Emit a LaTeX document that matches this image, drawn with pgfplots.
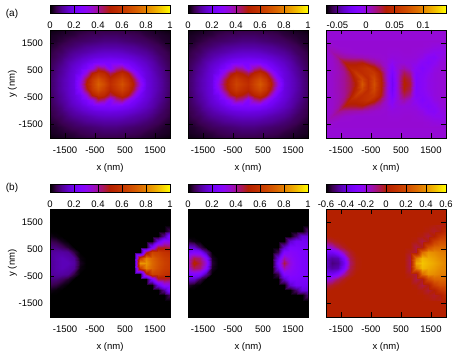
\documentclass[border=0pt]{standalone}
\usepackage{pgfplots}
\usepackage{pgfplotstable}
\usepackage{fontspec}
\setmainfont{Liberation Sans}
\pgfplotsset{compat=1.18}
\definecolor{bgAc}{rgb}{.585,.04,.84}
\definecolor{bgBc}{rgb}{.707,.125,0}
\pgfplotsset{
 colormap={gp}{
  rgb=(0,0,0) rgb=(.224,0,.309) rgb=(.316,.001,.588) rgb=(.387,.003,.809) rgb=(.447,.008,.951)
  rgb=(.5,.016,1) rgb=(.548,.027,.951) rgb=(.592,.043,.809) rgb=(.632,.064,.588) rgb=(.671,.091,.309)
  rgb=(.707,.125,0) rgb=(.742,.166,0) rgb=(.775,.216,0) rgb=(.806,.275,0) rgb=(.837,.343,0)
  rgb=(.866,.422,0) rgb=(.894,.512,0) rgb=(.922,.614,0) rgb=(.949,.729,0) rgb=(.975,.857,0) rgb=(1,1,0)},
 panel/.style={
  scale only axis,width=120pt,height=108pt,anchor=north west,
  xmin=-2000,xmax=2000,ymin=-2000,ymax=2000,axis on top,
  xtick={-1500,-500,500,1500},xticklabels={-1500,-500,500,1500},
  ytick={-1500,-500,500,1500},yticklabels={-1500,-500,500,1500},
  tick align=inside,major tick length=4.5pt,
  tick style={black,line width=.5pt},axis line style={line width=.6pt},
  tick label style={font=\fontsize{9.5}{10}\selectfont},
  label style={font=\fontsize{9.5}{10}\selectfont},
  xticklabel style={yshift=-5.5pt},
  yticklabel style={xshift=-3.5pt},
  xlabel={x (nm)},xlabel style={yshift=-2.5pt},
  ylabel shift=-5pt,
  colormap name=gp,
 },
 cbar/.style={
  scale only axis,width=120pt,height=8pt,anchor=south west,
  ymin=0,ymax=1,ytick=\empty,axis on top,colormap name=gp,
  xtick pos=lower,tick align=inside,major tick length=8pt,
  tick style={black,line width=.5pt},axis line style={line width=.6pt},
  tick label style={font=\fontsize{9.5}{10}\selectfont},
  xticklabel style={yshift=-5pt},
 },
 field/.style={surf,shader=interp,mesh/cols=21,point meta=\thisrow{v}},
}
\newcommand\cbarplot[6]{%
\begin{axis}[cbar,at={(#1pt,#2pt)},xmin=#3,xmax=#4,xtick={#5},xticklabels={#6},point meta min=#3,point meta max=#4]
\addplot[surf,shader=interp,mesh/cols=2,point meta=explicit] coordinates {(#3,0) [#3] (#4,0) [#4] (#3,1) [#3] (#4,1) [#4]};
\end{axis}}
\pgfplotstableread{
x y v
-2000 0 .065
-1800 0 .09
-1600 0 .12
-1400 0 .145
-1200 0 .18
-1000 0 .32
-800 0 .50
-600 0 .62
-400 0 .72
-200 0 .66
0 0 .56
200 0 .62
400 0 .68
600 0 .60
800 0 .48
1000 0 .32
1200 0 .18
1400 0 .145
1600 0 .12
1800 0 .09
2000 0 .065
-2000 200 .065
-1800 200 .09
-1600 200 .12
-1400 200 .145
-1200 200 .175
-1000 200 .28
-800 200 .46
-600 200 .60
-400 200 .68
-200 200 .62
0 200 .53
200 200 .59
400 200 .64
600 200 .57
800 200 .45
1000 200 .28
1200 200 .175
1400 200 .145
1600 200 .12
1800 200 .09
2000 200 .065
-2000 400 .06
-1800 400 .085
-1600 400 .11
-1400 400 .14
-1200 400 .17
-1000 400 .21
-800 400 .33
-600 400 .50
-400 400 .57
-200 400 .54
0 400 .44
200 400 .50
400 400 .55
600 400 .49
800 400 .33
1000 400 .21
1200 400 .17
1400 400 .14
1600 400 .11
1800 400 .085
2000 400 .06
-2000 600 .055
-1800 600 .08
-1600 600 .105
-1400 600 .13
-1200 600 .16
-1000 600 .19
-800 600 .23
-600 600 .31
-400 600 .44
-200 600 .40
0 600 .27
200 600 .38
400 600 .42
600 600 .30
800 600 .23
1000 600 .19
1200 600 .16
1400 600 .13
1600 600 .105
1800 600 .08
2000 600 .055
-2000 800 .05
-1800 800 .07
-1600 800 .09
-1400 800 .12
-1200 800 .14
-1000 800 .16
-800 800 .185
-600 800 .21
-400 800 .235
-200 800 .24
0 800 .24
200 800 .24
400 800 .23
600 800 .21
800 800 .185
1000 800 .16
1200 800 .14
1400 800 .12
1600 800 .09
1800 800 .07
2000 800 .05
-2000 1000 .045
-1800 1000 .06
-1600 1000 .08
-1400 1000 .10
-1200 1000 .12
-1000 1000 .135
-800 1000 .15
-600 1000 .165
-400 1000 .175
-200 1000 .18
0 1000 .185
200 1000 .18
400 1000 .175
600 1000 .165
800 1000 .15
1000 1000 .135
1200 1000 .12
1400 1000 .10
1600 1000 .08
1800 1000 .06
2000 1000 .045
-2000 1200 .04
-1800 1200 .055
-1600 1200 .065
-1400 1200 .085
-1200 1200 .10
-1000 1200 .11
-800 1200 .12
-600 1200 .13
-400 1200 .14
-200 1200 .145
0 1200 .145
200 1200 .145
400 1200 .14
600 1200 .13
800 1200 .12
1000 1200 .11
1200 1200 .10
1400 1200 .085
1600 1200 .065
1800 1200 .055
2000 1200 .04
-2000 1400 .03
-1800 1400 .04
-1600 1400 .055
-1400 1400 .065
-1200 1400 .075
-1000 1400 .085
-800 1400 .095
-600 1400 .10
-400 1400 .105
-200 1400 .11
0 1400 .11
200 1400 .11
400 1400 .105
600 1400 .10
800 1400 .095
1000 1400 .085
1200 1400 .075
1400 1400 .065
1600 1400 .055
1800 1400 .04
2000 1400 .03
-2000 1600 .025
-1800 1600 .03
-1600 1600 .04
-1400 1600 .05
-1200 1600 .06
-1000 1600 .065
-800 1600 .07
-600 1600 .075
-400 1600 .08
-200 1600 .085
0 1600 .085
200 1600 .085
400 1600 .08
600 1600 .075
800 1600 .07
1000 1600 .065
1200 1600 .06
1400 1600 .05
1600 1600 .04
1800 1600 .03
2000 1600 .025
-2000 1800 .02
-1800 1800 .025
-1600 1800 .03
-1400 1800 .035
-1200 1800 .04
-1000 1800 .05
-800 1800 .055
-600 1800 .06
-400 1800 .06
-200 1800 .065
0 1800 .065
200 1800 .065
400 1800 .06
600 1800 .06
800 1800 .055
1000 1800 .05
1200 1800 .04
1400 1800 .035
1600 1800 .03
1800 1800 .025
2000 1800 .02
-2000 2000 .01
-1800 2000 .015
-1600 2000 .02
-1400 2000 .025
-1200 2000 .03
-1000 2000 .035
-800 2000 .04
-600 2000 .04
-400 2000 .045
-200 2000 .045
0 2000 .045
200 2000 .045
400 2000 .045
600 2000 .04
800 2000 .04
1000 2000 .035
1200 2000 .03
1400 2000 .025
1600 2000 .02
1800 2000 .015
2000 2000 .01
}\tAa
\pgfplotstableread{
x y v
-2000 0 .065
-1800 0 .09
-1600 0 .12
-1400 0 .145
-1200 0 .18
-1000 0 .32
-800 0 .46
-600 0 .56
-400 0 .64
-200 0 .60
0 0 .56
200 0 .64
400 0 .70
600 0 .62
800 0 .48
1000 0 .32
1200 0 .18
1400 0 .145
1600 0 .12
1800 0 .09
2000 0 .065
-2000 200 .065
-1800 200 .09
-1600 200 .12
-1400 200 .145
-1200 200 .175
-1000 200 .28
-800 200 .43
-600 200 .54
-400 200 .61
-200 200 .57
0 200 .53
200 200 .61
400 200 .66
600 200 .59
800 200 .45
1000 200 .28
1200 200 .175
1400 200 .145
1600 200 .12
1800 200 .09
2000 200 .065
-2000 400 .06
-1800 400 .085
-1600 400 .11
-1400 400 .14
-1200 400 .17
-1000 400 .21
-800 400 .33
-600 400 .46
-400 400 .52
-200 400 .49
0 400 .44
200 400 .52
400 400 .56
600 400 .49
800 400 .33
1000 400 .21
1200 400 .17
1400 400 .14
1600 400 .11
1800 400 .085
2000 400 .06
-2000 600 .055
-1800 600 .08
-1600 600 .105
-1400 600 .13
-1200 600 .16
-1000 600 .19
-800 600 .23
-600 600 .30
-400 600 .41
-200 600 .38
0 600 .27
200 600 .39
400 600 .43
600 600 .31
800 600 .23
1000 600 .19
1200 600 .16
1400 600 .13
1600 600 .105
1800 600 .08
2000 600 .055
-2000 800 .05
-1800 800 .07
-1600 800 .09
-1400 800 .12
-1200 800 .14
-1000 800 .16
-800 800 .185
-600 800 .21
-400 800 .23
-200 800 .24
0 800 .24
200 800 .24
400 800 .235
600 800 .21
800 800 .185
1000 800 .16
1200 800 .14
1400 800 .12
1600 800 .09
1800 800 .07
2000 800 .05
-2000 1000 .045
-1800 1000 .06
-1600 1000 .08
-1400 1000 .10
-1200 1000 .12
-1000 1000 .135
-800 1000 .15
-600 1000 .165
-400 1000 .175
-200 1000 .18
0 1000 .185
200 1000 .18
400 1000 .175
600 1000 .165
800 1000 .15
1000 1000 .135
1200 1000 .12
1400 1000 .10
1600 1000 .08
1800 1000 .06
2000 1000 .045
-2000 1200 .04
-1800 1200 .055
-1600 1200 .065
-1400 1200 .085
-1200 1200 .10
-1000 1200 .11
-800 1200 .12
-600 1200 .13
-400 1200 .14
-200 1200 .145
0 1200 .145
200 1200 .145
400 1200 .14
600 1200 .13
800 1200 .12
1000 1200 .11
1200 1200 .10
1400 1200 .085
1600 1200 .065
1800 1200 .055
2000 1200 .04
-2000 1400 .03
-1800 1400 .04
-1600 1400 .055
-1400 1400 .065
-1200 1400 .075
-1000 1400 .085
-800 1400 .095
-600 1400 .10
-400 1400 .105
-200 1400 .11
0 1400 .11
200 1400 .11
400 1400 .105
600 1400 .10
800 1400 .095
1000 1400 .085
1200 1400 .075
1400 1400 .065
1600 1400 .055
1800 1400 .04
2000 1400 .03
-2000 1600 .025
-1800 1600 .03
-1600 1600 .04
-1400 1600 .05
-1200 1600 .06
-1000 1600 .065
-800 1600 .07
-600 1600 .075
-400 1600 .08
-200 1600 .085
0 1600 .085
200 1600 .085
400 1600 .08
600 1600 .075
800 1600 .07
1000 1600 .065
1200 1600 .06
1400 1600 .05
1600 1600 .04
1800 1600 .03
2000 1600 .025
-2000 1800 .02
-1800 1800 .025
-1600 1800 .03
-1400 1800 .035
-1200 1800 .04
-1000 1800 .05
-800 1800 .055
-600 1800 .06
-400 1800 .06
-200 1800 .065
0 1800 .065
200 1800 .065
400 1800 .06
600 1800 .06
800 1800 .055
1000 1800 .05
1200 1800 .04
1400 1800 .035
1600 1800 .03
1800 1800 .025
2000 1800 .02
-2000 2000 .01
-1800 2000 .015
-1600 2000 .02
-1400 2000 .025
-1200 2000 .03
-1000 2000 .035
-800 2000 .04
-600 2000 .04
-400 2000 .045
-200 2000 .045
0 2000 .045
200 2000 .045
400 2000 .045
600 2000 .04
800 2000 .04
1000 2000 .035
1200 2000 .03
1400 2000 .025
1600 2000 .02
1800 2000 .015
2000 2000 .01
}\tAb
\pgfplotstableread{
x y v
-2000 0 0
-1800 0 .002
-1600 0 .006
-1400 0 .012
-1200 0 .022
-1000 0 .035
-800 0 .075
-600 0 .045
-400 0 .07
-200 0 .04
0 0 .008
200 0 -.028
400 0 .005
600 0 .035
800 0 .025
1000 0 -.018
1200 0 -.012
1400 0 -.006
1600 0 -.003
1800 0 -.001
2000 0 0
-2000 200 0
-1800 200 .002
-1600 200 .006
-1400 200 .012
-1200 200 .022
-1000 200 .04
-800 200 .065
-600 200 .045
-400 200 .065
-200 200 .04
0 200 .006
200 200 -.027
400 200 .004
600 200 .032
800 200 .022
1000 200 -.018
1200 200 -.012
1400 200 -.006
1600 200 -.003
1800 200 -.001
2000 200 0
-2000 400 0
-1800 400 .002
-1600 400 .005
-1400 400 .012
-1200 400 .028
-1000 400 .055
-800 400 .045
-600 400 .05
-400 400 .055
-200 400 .035
0 400 .004
200 400 -.022
400 400 .002
600 400 .022
800 400 .012
1000 400 -.016
1200 400 -.014
1400 400 -.008
1600 400 -.003
1800 400 -.001
2000 400 0
-2000 600 0
-1800 600 .002
-1600 600 .006
-1400 600 .016
-1200 600 .04
-1000 600 .04
-800 600 .045
-600 600 .05
-400 600 .038
-200 600 .02
0 600 .002
200 600 -.015
400 600 0
600 600 .008
800 600 0
1000 600 -.01
1200 600 -.018
1400 600 -.012
1600 600 -.005
1800 600 -.001
2000 600 0
-2000 800 0
-1800 800 .002
-1600 800 .008
-1400 800 .03
-1200 800 .028
-1000 800 .028
-800 800 .03
-600 800 .02
-400 800 .012
-200 800 .006
0 800 0
200 800 -.008
400 800 -.003
600 800 -.002
800 800 -.003
1000 800 -.005
1200 800 -.012
1400 800 -.016
1600 800 -.01
1800 800 -.003
2000 800 0
-2000 1000 0
-1800 1000 .003
-1600 1000 .014
-1400 1000 .01
-1200 1000 .008
-1000 1000 .007
-800 1000 .006
-600 1000 .004
-400 1000 .002
-200 1000 .001
0 1000 0
200 1000 -.003
400 1000 -.002
600 1000 -.001
800 1000 -.001
1000 1000 -.002
1200 1000 -.005
1400 1000 -.012
1600 1000 -.014
1800 1000 -.006
2000 1000 -.002
-2000 1200 0
-1800 1200 .007
-1600 1200 .005
-1400 1200 .002
-1200 1200 .001
-1000 1200 0
-800 1200 0
-600 1200 0
-400 1200 0
-200 1200 0
0 1200 0
200 1200 -.001
400 1200 -.001
600 1200 0
800 1200 0
1000 1200 -.001
1200 1200 -.002
1400 1200 -.005
1600 1200 -.008
1800 1200 -.008
2000 1200 -.004
-2000 1400 .003
-1800 1400 .002
-1600 1400 0
-1400 1400 0
-1200 1400 0
-1000 1400 0
-800 1400 0
-600 1400 0
-400 1400 0
-200 1400 0
0 1400 0
200 1400 0
400 1400 0
600 1400 0
800 1400 0
1000 1400 0
1200 1400 0
1400 1400 -.001
1600 1400 -.003
1800 1400 -.004
2000 1400 -.004
-2000 1600 0
-1800 1600 0
-1600 1600 0
-1400 1600 0
-1200 1600 0
-1000 1600 0
-800 1600 0
-600 1600 0
-400 1600 0
-200 1600 0
0 1600 0
200 1600 0
400 1600 0
600 1600 0
800 1600 0
1000 1600 0
1200 1600 0
1400 1600 0
1600 1600 0
1800 1600 0
2000 1600 0
}\tAc
\pgfplotstableread{
x y v
-2000 0 .10
-1800 0 .12
-1600 0 .13
-1400 0 .13
-1200 0 .11
-1000 0 .02
-800 0 0
-600 0 0
-400 0 0
-200 0 0
0 0 0
200 0 0
400 0 0
600 0 0
800 0 0
1000 0 .84
1200 0 .84
1400 0 .74
1600 0 .68
1800 0 .63
2000 0 .60
-2000 200 .10
-1800 200 .12
-1600 200 .13
-1400 200 .12
-1200 200 .10
-1000 200 .01
-800 200 0
-600 200 0
-400 200 0
-200 200 0
0 200 0
200 200 0
400 200 0
600 200 0
800 200 0
1000 200 .62
1200 200 .80
1400 200 .73
1600 200 .67
1800 200 .62
2000 200 .60
-2000 400 .10
-1800 400 .11
-1600 400 .11
-1400 400 .10
-1200 400 .04
-1000 400 0
-800 400 0
-600 400 0
-400 400 0
-200 400 0
0 400 0
200 400 0
400 400 0
600 400 0
800 400 0
1000 400 0
1200 400 .45
1400 400 .64
1600 400 .62
1800 400 .58
2000 400 .56
-2000 600 .08
-1800 600 .08
-1600 600 .06
-1400 600 .03
-1200 600 0
-1000 600 0
-800 600 0
-600 600 0
-400 600 0
-200 600 0
0 600 0
200 600 0
400 600 0
600 600 0
800 600 0
1000 600 0
1200 600 0
1400 600 .24
1600 600 .46
1800 600 .47
2000 600 .45
-2000 800 .05
-1800 800 .04
-1600 800 .015
-1400 800 0
-1200 800 0
-1000 800 0
-800 800 0
-600 800 0
-400 800 0
-200 800 0
0 800 0
200 800 0
400 800 0
600 800 0
800 800 0
1000 800 0
1200 800 0
1400 800 0
1600 800 .18
1800 800 .30
2000 800 .31
-2000 1000 .015
-1800 1000 .005
-1600 1000 0
-1400 1000 0
-1200 1000 0
-1000 1000 0
-800 1000 0
-600 1000 0
-400 1000 0
-200 1000 0
0 1000 0
200 1000 0
400 1000 0
600 1000 0
800 1000 0
1000 1000 0
1200 1000 0
1400 1000 0
1600 1000 0
1800 1000 .10
2000 1000 .28
-2000 1200 0
-1800 1200 0
-1600 1200 0
-1400 1200 0
-1200 1200 0
-1000 1200 0
-800 1200 0
-600 1200 0
-400 1200 0
-200 1200 0
0 1200 0
200 1200 0
400 1200 0
600 1200 0
800 1200 0
1000 1200 0
1200 1200 0
1400 1200 0
1600 1200 0
1800 1200 0
2000 1200 .06
-2000 1400 0
-1800 1400 0
-1600 1400 0
-1400 1400 0
-1200 1400 0
-1000 1400 0
-800 1400 0
-600 1400 0
-400 1400 0
-200 1400 0
0 1400 0
200 1400 0
400 1400 0
600 1400 0
800 1400 0
1000 1400 0
1200 1400 0
1400 1400 0
1600 1400 0
1800 1400 0
2000 1400 0
}\tBa
\pgfplotstableread{
x y v
-2000 0 .35
-1800 0 .52
-1600 0 .45
-1400 0 .33
-1200 0 .03
-1000 0 0
-800 0 0
-600 0 0
-400 0 0
-200 0 0
0 0 0
200 0 0
400 0 0
600 0 0
800 0 0
1000 0 .24
1200 0 .46
1400 0 .33
1600 0 .27
1800 0 .24
2000 0 .23
-2000 200 .33
-1800 200 .45
-1600 200 .42
-1400 200 .28
-1200 200 .02
-1000 200 0
-800 200 0
-600 200 0
-400 200 0
-200 200 0
0 200 0
200 200 0
400 200 0
600 200 0
800 200 0
1000 200 .18
1200 200 .38
1400 200 .31
1600 200 .27
1800 200 .24
2000 200 .23
-2000 400 .22
-1800 400 .26
-1600 400 .24
-1400 400 .10
-1200 400 0
-1000 400 0
-800 400 0
-600 400 0
-400 400 0
-200 400 0
0 400 0
200 400 0
400 400 0
600 400 0
800 400 0
1000 400 .05
1200 400 .26
1400 400 .28
1600 400 .26
1800 400 .24
2000 400 .23
-2000 600 .15
-1800 600 .14
-1600 600 .05
-1400 600 0
-1200 600 0
-1000 600 0
-800 600 0
-600 600 0
-400 600 0
-200 600 0
0 600 0
200 600 0
400 600 0
600 600 0
800 600 0
1000 600 0
1200 600 .14
1400 600 .24
1600 600 .24
1800 600 .23
2000 600 .22
-2000 800 .03
-1800 800 .01
-1600 800 0
-1400 800 0
-1200 800 0
-1000 800 0
-800 800 0
-600 800 0
-400 800 0
-200 800 0
0 800 0
200 800 0
400 800 0
600 800 0
800 800 0
1000 800 0
1200 800 0
1400 800 .15
1600 800 .21
1800 800 .21
2000 800 .20
-2000 1000 0
-1800 1000 0
-1600 1000 0
-1400 1000 0
-1200 1000 0
-1000 1000 0
-800 1000 0
-600 1000 0
-400 1000 0
-200 1000 0
0 1000 0
200 1000 0
400 1000 0
600 1000 0
800 1000 0
1000 1000 0
1200 1000 0
1400 1000 0
1600 1000 .07
1800 1000 .17
2000 1000 .17
-2000 1200 0
-1800 1200 0
-1600 1200 0
-1400 1200 0
-1200 1200 0
-1000 1200 0
-800 1200 0
-600 1200 0
-400 1200 0
-200 1200 0
0 1200 0
200 1200 0
400 1200 0
600 1200 0
800 1200 0
1000 1200 0
1200 1200 0
1400 1200 0
1600 1200 0
1800 1200 0
2000 1200 .08
-2000 1400 0
-1800 1400 0
-1600 1400 0
-1400 1400 0
-1200 1400 0
-1000 1400 0
-800 1400 0
-600 1400 0
-400 1400 0
-200 1400 0
0 1400 0
200 1400 0
400 1400 0
600 1400 0
800 1400 0
1000 1400 0
1200 1400 0
1400 1400 0
1600 1400 0
1800 1400 0
2000 1400 0
}\tBb
\pgfplotstableread{
x y v
-2000 0 -.42
-1800 0 -.50
-1600 0 -.48
-1400 0 -.36
-1200 0 -.08
-1000 0 -.01
-800 0 0
-600 0 0
-400 0 0
-200 0 0
0 0 0
200 0 0
400 0 0
600 0 0
800 0 -.06
1000 0 .44
1200 0 .50
1400 0 .47
1600 0 .44
1800 0 .40
2000 0 .36
-2000 200 -.42
-1800 200 -.47
-1600 200 -.45
-1400 200 -.31
-1200 200 -.06
-1000 200 -.01
-800 200 0
-600 200 0
-400 200 0
-200 200 0
0 200 0
200 200 0
400 200 0
600 200 0
800 200 -.05
1000 200 .34
1200 200 .48
1400 200 .45
1600 200 .42
1800 200 .38
2000 200 .36
-2000 400 -.34
-1800 400 -.35
-1600 400 -.28
-1400 400 -.12
-1200 400 -.03
-1000 400 0
-800 400 0
-600 400 0
-400 400 0
-200 400 0
0 400 0
200 400 0
400 400 0
600 400 0
800 400 -.02
1000 400 -.04
1200 400 .30
1400 400 .40
1600 400 .38
1800 400 .35
2000 400 .33
-2000 600 -.22
-1800 600 -.16
-1600 600 -.07
-1400 600 -.02
-1200 600 0
-1000 600 0
-800 600 0
-600 600 0
-400 600 0
-200 600 0
0 600 0
200 600 0
400 600 0
600 600 0
800 600 0
1000 600 -.05
1200 600 -.02
1400 600 .20
1600 600 .28
1800 600 .29
2000 600 .28
-2000 800 -.07
-1800 800 -.03
-1600 800 -.01
-1400 800 0
-1200 800 0
-1000 800 0
-800 800 0
-600 800 0
-400 800 0
-200 800 0
0 800 0
200 800 0
400 800 0
600 800 0
800 800 0
1000 800 -.01
1200 800 -.05
1400 800 -.01
1600 800 .14
1800 800 .21
2000 800 .21
-2000 1000 -.01
-1800 1000 0
-1600 1000 0
-1400 1000 0
-1200 1000 0
-1000 1000 0
-800 1000 0
-600 1000 0
-400 1000 0
-200 1000 0
0 1000 0
200 1000 0
400 1000 0
600 1000 0
800 1000 0
1000 1000 0
1200 1000 -.01
1400 1000 -.04
1600 1000 0
1800 1000 .10
2000 1000 .15
-2000 1200 0
-1800 1200 0
-1600 1200 0
-1400 1200 0
-1200 1200 0
-1000 1200 0
-800 1200 0
-600 1200 0
-400 1200 0
-200 1200 0
0 1200 0
200 1200 0
400 1200 0
600 1200 0
800 1200 0
1000 1200 0
1200 1200 0
1400 1200 -.01
1600 1200 -.03
1800 1200 -.01
2000 1200 .06
-2000 1400 0
-1800 1400 0
-1600 1400 0
-1400 1400 0
-1200 1400 0
-1000 1400 0
-800 1400 0
-600 1400 0
-400 1400 0
-200 1400 0
0 1400 0
200 1400 0
400 1400 0
600 1400 0
800 1400 0
1000 1400 0
1200 1400 0
1400 1400 0
1600 1400 -.01
1800 1400 -.02
2000 1400 -.01
}\tBc
\begin{document}
\begin{tikzpicture}[x=1pt,y=1pt]
\useasboundingbox (0,0) rectangle (453,354);
\node[font=\fontsize{10}{10}\selectfont] at (12,340) {(a)};
\node[font=\fontsize{10}{10}\selectfont] at (12,166) {(b)};
\cbarplot{50}{341}{0}{1}{0,0.2,0.4,0.6,0.8,1}{0,0.2,0.4,0.6,0.8,1}
\cbarplot{188}{341}{0}{1}{0,0.2,0.4,0.6,0.8,1}{0,0.2,0.4,0.6,0.8,1}
\cbarplot{326}{341}{-0.07}{0.14}{-0.05,0,0.05,0.1}{-0.05,0,0.05,0.1}
\cbarplot{50}{162}{0}{1}{0,0.2,0.4,0.6,0.8,1}{0,0.2,0.4,0.6,0.8,1}
\cbarplot{188}{162}{0}{1}{0,0.2,0.4,0.6,0.8,1}{0,0.2,0.4,0.6,0.8,1}
\cbarplot{326}{162}{-0.6}{0.6}{-0.6,-0.4,-0.2,0,0.2,0.4,0.6}{-0.6,-0.4,-0.2,0,0.2,0.4,0.6}
\begin{axis}[panel,at={(50pt,324pt)},ylabel={y (nm)},point meta min=0,point meta max=1]
\addplot[field] table[x=x,y=y]{\tAa};
\addplot[field] table[x=x,y expr=-\thisrow{y}]{\tAa};
\end{axis}
\begin{axis}[panel,at={(188pt,324pt)},yticklabels={},point meta min=0,point meta max=1]
\addplot[field] table[x=x,y=y]{\tAb};
\addplot[field] table[x=x,y expr=-\thisrow{y}]{\tAb};
\end{axis}
\begin{axis}[panel,at={(326pt,324pt)},yticklabels={},point meta min=-0.072,point meta max=0.138,axis background/.style={fill=bgAc}]
\addplot[field] table[x=x,y=y]{\tAc};
\addplot[field] table[x=x,y expr=-\thisrow{y}]{\tAc};
\end{axis}
\begin{axis}[panel,at={(50pt,145pt)},ylabel={y (nm)},point meta min=0,point meta max=1,axis background/.style={fill=black}]
\addplot[field] table[x=x,y=y]{\tBa};
\addplot[field] table[x=x,y expr=-\thisrow{y}]{\tBa};
\end{axis}
\begin{axis}[panel,at={(188pt,145pt)},yticklabels={},point meta min=0,point meta max=1,axis background/.style={fill=black}]
\addplot[field] table[x=x,y=y]{\tBb};
\addplot[field] table[x=x,y expr=-\thisrow{y}]{\tBb};
\end{axis}
\begin{axis}[panel,at={(326pt,145pt)},yticklabels={},point meta min=-0.6,point meta max=0.6,axis background/.style={fill=bgBc}]
\addplot[field] table[x=x,y=y]{\tBc};
\addplot[field] table[x=x,y expr=-\thisrow{y}]{\tBc};
\end{axis}
\end{tikzpicture}
\end{document}
